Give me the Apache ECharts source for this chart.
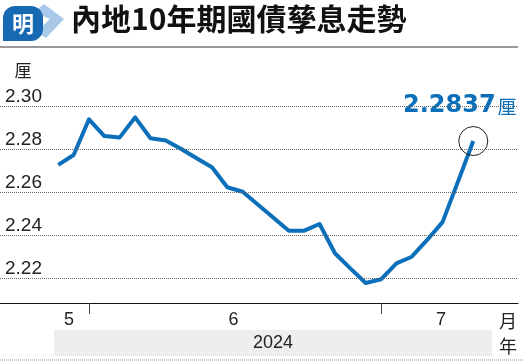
<!DOCTYPE html>
<html>
<head>
<meta charset="utf-8">
<script src="https://cdn.jsdelivr.net/npm/echarts@6/dist/echarts.min.js"></script>
<style>html,body{margin:0;padding:0;background:#fff}#c{width:524px;height:361px}</style>
</head>
<body>
<div id="c"></div>
<script>
// Trading days (index 0 = 2024-05-30)
const dates = ['5/30','5/31','6/3','6/4','6/5','6/6','6/7','6/11','6/12','6/13','6/14','6/17','6/18','6/19','6/20','6/21','6/24','6/25','6/26','6/27','6/28','7/1','7/2','7/3','7/4','7/5','7/8','7/9'];
const yields = [2.2726,2.2772,2.2938,2.2860,2.2854,2.2947,2.2850,2.2840,2.2800,2.2757,2.2715,2.2622,2.2601,2.2541,2.2480,2.2420,2.2420,2.2451,2.2315,2.2245,2.2177,2.2194,2.2268,2.2299,2.2377,2.2460,2.2647,2.2837];
const yTicks = [2.22,2.24,2.26,2.28,2.30];
const monthLabels = ['5','6','7'];
const yearLabel = '2024';

const BLUE = '#0b6fba';
const last = yields.length - 1;
const monthStarts = [];
dates.forEach((d,i)=>{ if(i>0 && d.split('/')[0] !== dates[i-1].split('/')[0]) monthStarts.push(i); });
const monthLabelPos = [0.7, 11.4, 24.9];

const seriesData = yields.map((v,i)=> i===last ? {
  value:[i,v], symbol:'circle', symbolSize:29,
  itemStyle:{color:'rgba(0,0,0,0)', borderColor:'#222', borderWidth:1},
  label:{show:true, position:'top', distance:0, offset:[-15,-8],
    formatter: p => '{a|' + p.value[1].toFixed(4) + '}{b|厘}',
    backgroundColor:'#fff', padding:[0,2,0,5],
    rich:{
      a:{fontFamily:'DejaVu Sans', fontWeight:'bold', fontSize:24, color:BLUE},
      b:{fontFamily:'Noto Sans CJK TC', fontSize:19, color:BLUE, padding:[2,0,0,2]}
    }}
} : {value:[i,v], symbol:'none'});

const chart = echarts.init(document.getElementById('c'), null, {renderer:'canvas'});
chart.setOption({
  animation:false,
  backgroundColor:'#fff',
  grid:{left:0, right:6, top:106, bottom:40},
  xAxis:{
    type:'value', min:-3.79, max:29.91, offset:-18,
    splitLine:{show:false},
    axisLine:{onZero:false, lineStyle:{color:'#111', width:1}},
    axisTick:{show:true, length:11, customValues:monthStarts, lineStyle:{color:'#444'}},
    axisLabel:{show:true, customValues:monthLabelPos, margin:8,
      formatter: v => monthLabels[monthLabelPos.indexOf(v)] || '',
      fontFamily:'Liberation Sans', fontSize:18, color:'#222'}
  },
  yAxis:{
    type:'value', min:2.20, max:2.30, interval:0.02,
    axisLine:{show:false}, axisTick:{show:false}, splitLine:{show:false},
    axisLabel:{inside:true, margin:5, verticalAlign:'bottom', showMaxLabel:true,
      formatter: v => v < 2.21 ? '' : v.toFixed(2),
      fontFamily:'Liberation Sans', fontSize:19, color:'#222'}
  },
  series:[
    {type:'line', data:[], z:1, silent:true,
     markLine:{silent:true, symbol:'none', label:{show:false},
       lineStyle:{type:'dotted', color:'#666', width:1},
       data: yTicks.map(v=>({yAxis:v}))}},
    {type:'line', z:3, data:seriesData, showSymbol:true,
     lineStyle:{color:BLUE, width:4, join:'round'}, itemStyle:{color:BLUE}}
  ],
  graphic:[
    {type:'polygon', shape:{points:[[34,12],[44,4],[64,19],[46,38],[36,32],[50,19]]}, style:{fill:'#a9c9ea'}},
    {type:'rect', shape:{x:3,y:6,width:40,height:35,r:[12,12,12,0]}, style:{fill:'#1769b3'}},
    {type:'text', x:23, y:24, style:{text:'明', align:'center', verticalAlign:'middle', fontFamily:'Noto Sans CJK TC', fontWeight:'bold', fontSize:22, fill:'#fff'}},
    {type:'text', left:71, top:4, style:{text:'內地10年期國債孳息走勢', fontFamily:'Noto Sans CJK TC', fontWeight:'bold', fontSize:30, fill:'#111'}},
    {type:'line', shape:{x1:0,y1:47,x2:518,y2:47}, style:{stroke:'#777', lineWidth:1.5}},
    {type:'text', x:23, y:71, style:{text:'厘', align:'center', verticalAlign:'middle', fontFamily:'Noto Sans CJK TC', fontSize:17, fill:'#222'}},
    {type:'rect', shape:{x:54,y:330,width:438,height:26}, style:{fill:'#eeeeee'}},
    {type:'text', x:273, y:343, style:{text:yearLabel, align:'center', verticalAlign:'middle', fontFamily:'Liberation Sans', fontSize:18, fill:'#222'}},
    {type:'text', x:508, y:321, style:{text:'月', align:'center', verticalAlign:'middle', fontFamily:'Noto Sans CJK TC', fontSize:18, fill:'#222'}},
    {type:'text', x:508, y:346, style:{text:'年', align:'center', verticalAlign:'middle', fontFamily:'Noto Sans CJK TC', fontSize:18, fill:'#222'}},
    {type:'line', shape:{x1:0,y1:360,x2:524,y2:360}, style:{stroke:'#888', lineWidth:1, lineDash:[1,1]}}
  ]
});
</script>
</body>
</html>
